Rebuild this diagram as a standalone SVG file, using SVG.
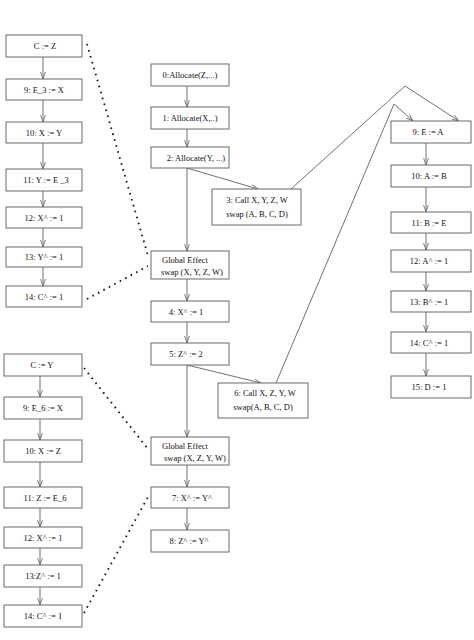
<svg xmlns="http://www.w3.org/2000/svg" width="474" height="640" viewBox="0 0 474 640">
<style>
.box{fill:#fff;stroke:#6a6a6a;stroke-width:1}
.t{font-family:"Liberation Serif","Times New Roman",serif;font-size:8.5px;fill:#111;text-anchor:middle}
.tl{font-family:"Liberation Serif","Times New Roman",serif;font-size:8.5px;fill:#111}
.e{stroke:#606060;stroke-width:0.9;fill:none}
.a{stroke:#606060;stroke-width:0.9;fill:none;marker-end:url(#ah)}
.d{stroke:#111;stroke-width:1.8;fill:none;stroke-dasharray:1.6 4.6}
</style>
<defs>
<marker id="ah" viewBox="0 0 8 8" refX="8" refY="4" markerWidth="7" markerHeight="7" markerUnits="userSpaceOnUse" orient="auto">
<path d="M0,1.2 L8,4 L0,6.8" fill="none" stroke="#606060" stroke-width="0.9"/>
</marker>
</defs>
<rect width="474" height="640" fill="#fff"/>
<g id="connectors">
<line class="a" x1="43" y1="57" x2="43" y2="79"/>
<line class="a" x1="43" y1="100" x2="43" y2="122"/>
<line class="a" x1="43" y1="143" x2="43" y2="169"/>
<line class="a" x1="43" y1="191" x2="43" y2="207"/>
<line class="a" x1="43" y1="228" x2="43" y2="247"/>
<line class="a" x1="43" y1="267" x2="43" y2="286"/>
<line class="a" x1="40" y1="376" x2="40" y2="397"/>
<line class="a" x1="40" y1="419" x2="40" y2="440"/>
<line class="a" x1="40" y1="462" x2="40" y2="487"/>
<line class="a" x1="40" y1="508" x2="40" y2="527"/>
<line class="a" x1="40" y1="548" x2="40" y2="565"/>
<line class="a" x1="40" y1="587" x2="40" y2="605"/>
<line class="a" x1="187" y1="86" x2="187" y2="107"/>
<line class="a" x1="187" y1="129" x2="187" y2="147"/>
<line class="a" x1="187" y1="168" x2="187" y2="251"/>
<line class="a" x1="187" y1="168" x2="258" y2="189"/>
<line class="a" x1="187" y1="279" x2="187" y2="301"/>
<line class="a" x1="187" y1="322" x2="187" y2="343"/>
<line class="a" x1="187" y1="365" x2="187" y2="437"/>
<line class="a" x1="187" y1="365" x2="261" y2="383"/>
<line class="a" x1="187" y1="465" x2="187" y2="487"/>
<line class="a" x1="187" y1="508" x2="187" y2="530"/>
<polyline class="a" points="291,189 405,86 459,121"/>
<polyline class="a" points="276,383 394,104 413,121"/>
<line class="a" x1="426" y1="143" x2="426" y2="165"/>
<line class="a" x1="426" y1="187" x2="426" y2="212"/>
<line class="a" x1="426" y1="233" x2="426" y2="250"/>
<line class="a" x1="426" y1="272" x2="426" y2="291"/>
<line class="a" x1="426" y1="312" x2="426" y2="332"/>
<line class="a" x1="426" y1="353" x2="426" y2="376"/>
<line class="d" x1="87" y1="44" x2="148" y2="256"/>
<line class="d" x1="87" y1="299" x2="148" y2="266"/>
<line class="d" x1="84" y1="368" x2="148" y2="449"/>
<line class="d" x1="84" y1="613" x2="148" y2="497"/>
</g>
<g id="n_cz"><rect class="box" x="6" y="35" width="76" height="22"/><text class="t" x="45" y="49">C := Z</text></g>
<g id="n_l9"><rect class="box" x="6" y="79" width="76" height="21"/><text class="t" x="44" y="93">9: E_3 := X</text></g>
<g id="n_l10"><rect class="box" x="6" y="122" width="76" height="21"/><text class="t" x="44" y="136">10: X := Y</text></g>
<g id="n_l11"><rect class="box" x="6" y="169" width="76" height="22"/><text class="t" x="46" y="183">11: Y := E _3</text></g>
<g id="n_l12"><rect class="box" x="6" y="207" width="76" height="21"/><text class="t" x="44" y="221">12: X^ := 1</text></g>
<g id="n_l13"><rect class="box" x="6" y="247" width="76" height="20"/><text class="t" x="44" y="260">13: Y^ := 1</text></g>
<g id="n_l14"><rect class="box" x="6" y="286" width="76" height="21"/><text class="t" x="44" y="300">14: C^ := 1</text></g>
<g id="n_cy"><rect class="box" x="4" y="354" width="78" height="22"/><text class="t" x="42" y="368">C := Y</text></g>
<g id="n_m9"><rect class="box" x="4" y="397" width="78" height="22"/><text class="t" x="43" y="411">9: E_6 := X</text></g>
<g id="n_m10"><rect class="box" x="4" y="440" width="78" height="22"/><text class="t" x="43" y="454">10: X := Z</text></g>
<g id="n_m11"><rect class="box" x="4" y="487" width="78" height="21"/><text class="t" x="45" y="501">11: Z := E_6</text></g>
<g id="n_m12"><rect class="box" x="4" y="527" width="78" height="21"/><text class="t" x="43" y="541">12: X^ := 1</text></g>
<g id="n_m13"><rect class="box" x="4" y="565" width="78" height="22"/><text class="t" x="43" y="579">13:Z^ := 1</text></g>
<g id="n_m14"><rect class="box" x="4" y="605" width="78" height="22"/><text class="t" x="43" y="619">14: C^ := 1</text></g>
<g id="n_0"><rect class="box" x="151" y="64" width="78" height="22"/><text class="t" x="190" y="78">0:Allocate(Z,...)</text></g>
<g id="n_1"><rect class="box" x="151" y="107" width="78" height="22"/><text class="t" x="190" y="121">1: Allocate(X,..)</text></g>
<g id="n_2"><rect class="box" x="151" y="147" width="78" height="21"/><text class="t" x="196" y="161">2: Allocate(Y, ...)</text></g>
<g id="n_3"><rect class="box" x="212" y="189" width="89" height="36"/><text class="t" x="257" y="203">3: Call X, Y, Z, W</text><text class="t" x="257" y="217">swap (A, B, C, D)</text></g>
<g id="n_ge1"><rect class="box" x="151" y="251" width="78" height="28"/><text class="tl" x="162" y="263">Global Effect</text><text class="tl" x="161" y="275">swap (X, Y, Z, W)</text></g>
<g id="n_4"><rect class="box" x="151" y="301" width="78" height="21"/><text class="t" x="186" y="315">4: X^ := 1</text></g>
<g id="n_5"><rect class="box" x="151" y="343" width="78" height="22"/><text class="t" x="186" y="357">5: Z^ := 2</text></g>
<g id="n_6"><rect class="box" x="218" y="383" width="90" height="35"/><text class="t" x="265" y="396">6: Call X, Z, Y, W</text><text class="t" x="263" y="410">swap(A, B, C, D)</text></g>
<g id="n_ge2"><rect class="box" x="151" y="437" width="78" height="28"/><text class="tl" x="162" y="449">Global Effect</text><text class="tl" x="164" y="461">swap (X, Z, Y, W)</text></g>
<g id="n_7"><rect class="box" x="151" y="487" width="78" height="21"/><text class="t" x="192" y="501">7: X^ := Y^</text></g>
<g id="n_8"><rect class="box" x="151" y="530" width="78" height="22"/><text class="t" x="189" y="544">8: Z^ := Y^</text></g>
<g id="n_r9"><rect class="box" x="391" y="121" width="80" height="22"/><text class="t" x="428" y="135">9: E := A</text></g>
<g id="n_r10"><rect class="box" x="391" y="165" width="80" height="22"/><text class="t" x="429" y="179">10: A := B</text></g>
<g id="n_r11"><rect class="box" x="391" y="212" width="80" height="21"/><text class="t" x="429" y="226">11: B := E</text></g>
<g id="n_r12"><rect class="box" x="391" y="250" width="80" height="22"/><text class="t" x="429" y="264">12: A^ := 1</text></g>
<g id="n_r13"><rect class="box" x="391" y="291" width="80" height="21"/><text class="t" x="429" y="305">13: B^ := 1</text></g>
<g id="n_r14"><rect class="box" x="391" y="332" width="80" height="21"/><text class="t" x="429" y="346">14: C^ := 1</text></g>
<g id="n_r15"><rect class="box" x="391" y="376" width="80" height="22"/><text class="t" x="429" y="390">15: D := 1</text></g>
</svg>
